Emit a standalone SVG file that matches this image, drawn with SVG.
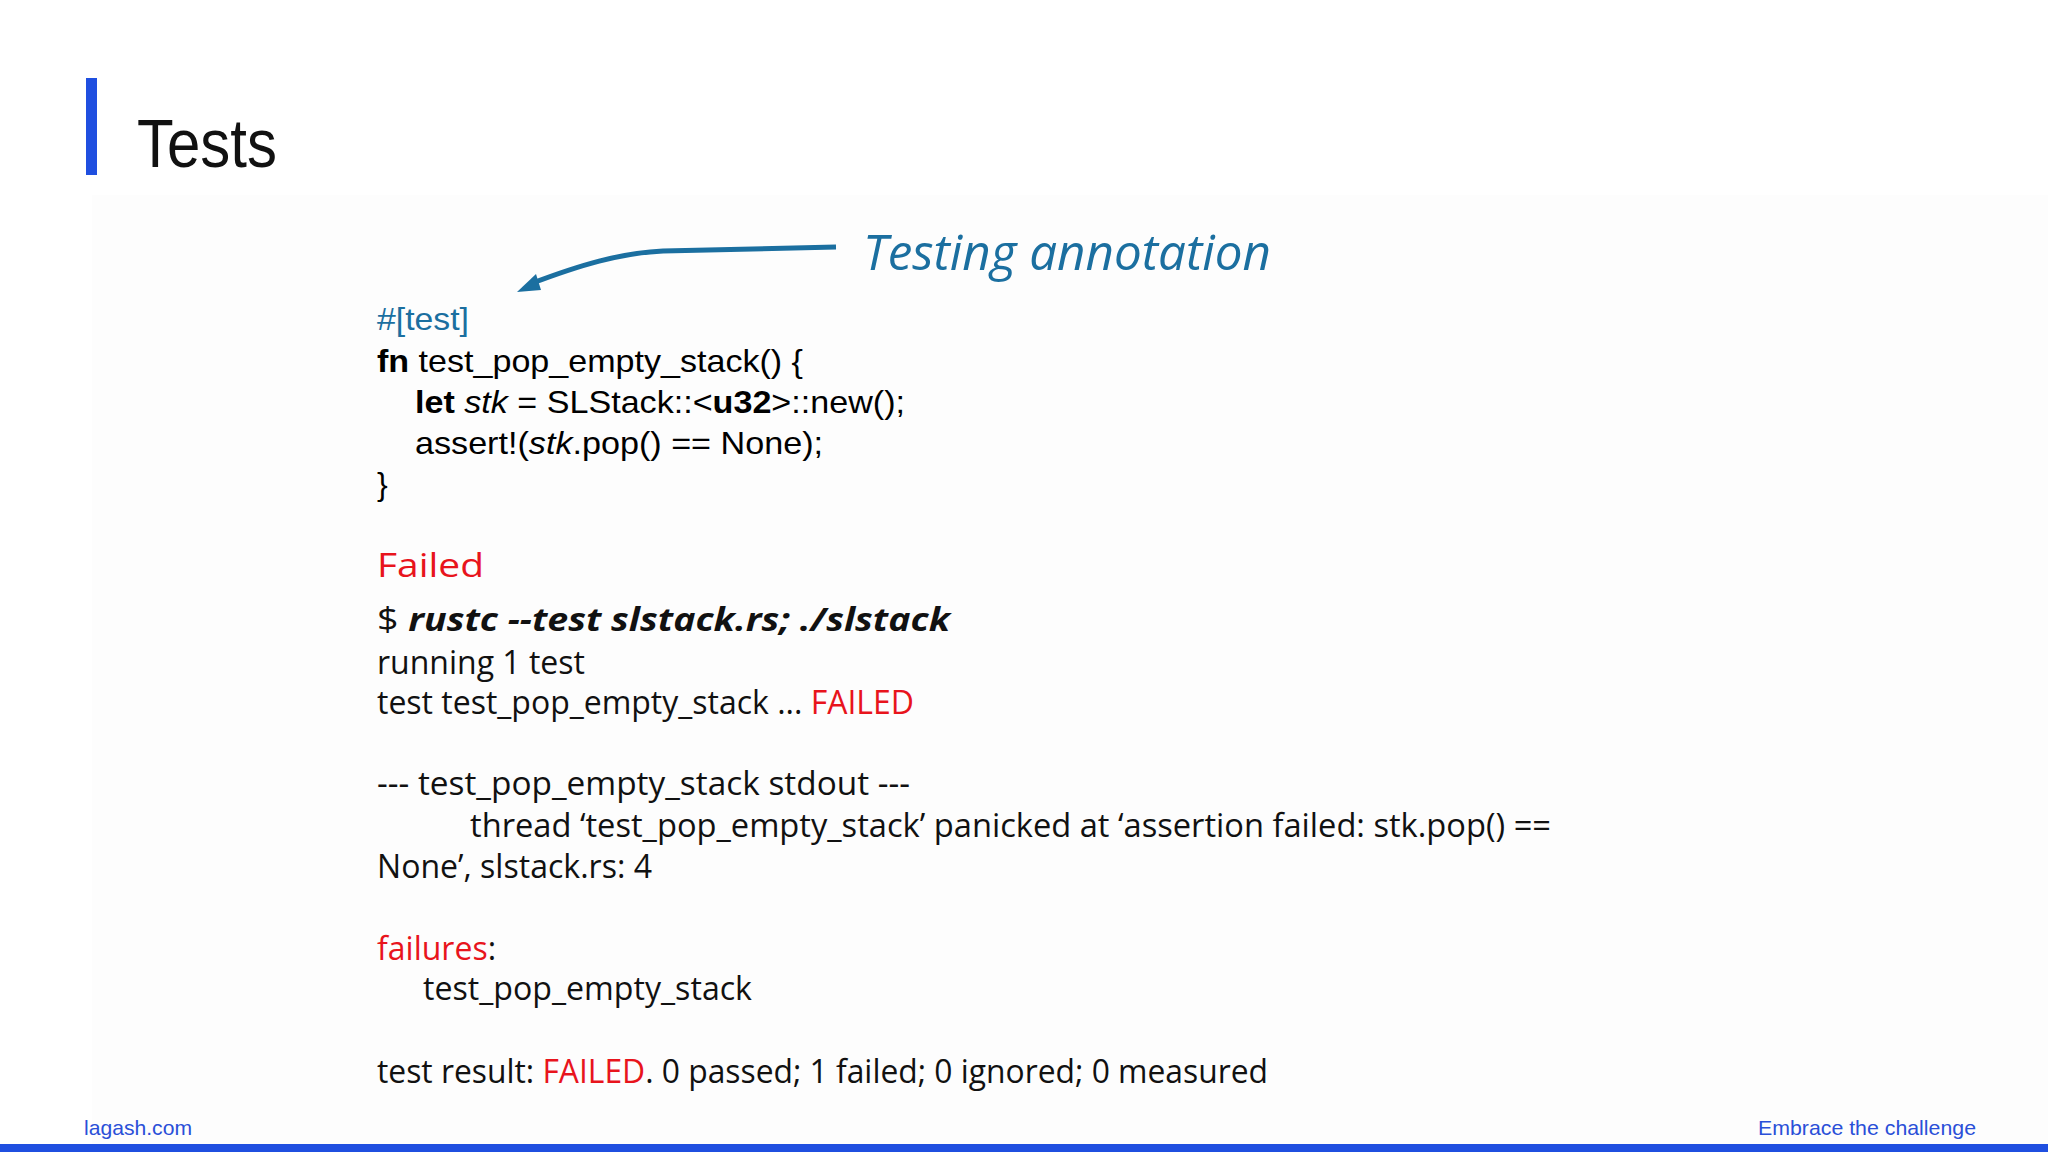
<svg xmlns="http://www.w3.org/2000/svg" width="2048" height="1152" viewBox="0 0 2048 1152">
<style>
.c{font-family:"Liberation Sans",Arial,sans-serif;font-size:32px;fill:#000}
.o{font-family:"Open Sans","Noto Sans",sans-serif;font-size:32px;fill:#111}
.r{fill:#e8141c}
.b{font-weight:bold}
.f{font-family:"Liberation Sans",Arial,sans-serif;font-size:21px;fill:#2a4fd8}
</style>
<rect width="2048" height="1152" fill="#ffffff"/>
<rect x="92" y="195" width="1956" height="949" fill="#fdfdfd"/>
<rect x="86" y="78" width="11" height="97" fill="#1f4fe0"/>
<text x="137" y="167" font-family="Liberation Sans,Arial,sans-serif" font-size="68" fill="#111" textLength="140" lengthAdjust="spacingAndGlyphs">Tests</text>
<g id="annotation">
<path d="M836,247 L663,251 C620,253 580,265 530,284" fill="none" stroke="#1b6fa0" stroke-width="5"/>
<polygon points="517,292 536,274 541,290" fill="#1b6fa0"/>
<text x="863" y="270" font-family="Open Sans,Noto Sans,sans-serif" font-style="italic" font-size="50" fill="#1b6fa0" textLength="408" lengthAdjust="spacingAndGlyphs">Testing annotation</text>
</g>
<g id="code">
<text x="377" y="330" class="c" style="fill:#1b6fa0" textLength="92" lengthAdjust="spacingAndGlyphs">#[test]</text>
<text x="377" y="372" class="c" textLength="426" lengthAdjust="spacingAndGlyphs"><tspan class="b">fn</tspan> test_pop_empty_stack() {</text>
<text x="415" y="413" class="c" textLength="490" lengthAdjust="spacingAndGlyphs"><tspan class="b">let</tspan> <tspan font-style="italic">stk</tspan> = SLStack::&lt;<tspan class="b">u32</tspan>&gt;::new();</text>
<text x="415" y="454" class="c" textLength="408" lengthAdjust="spacingAndGlyphs">assert!(<tspan font-style="italic">stk</tspan>.pop() == None);</text>
<text x="377" y="495" class="c">}</text>
</g>
<g id="output">
<text x="377" y="577" class="o" font-size="49" style="fill:#e8141c" textLength="107" lengthAdjust="spacingAndGlyphs">Failed</text>
<text x="377" y="631" class="o" font-size="39" textLength="573" lengthAdjust="spacingAndGlyphs">$ <tspan font-weight="bold" font-style="italic">rustc --test slstack.rs; ./slstack</tspan></text>
<text x="377" y="674" class="o" textLength="208" lengthAdjust="spacingAndGlyphs">running 1 test</text>
<text x="377" y="714" class="o" textLength="537" lengthAdjust="spacingAndGlyphs">test test_pop_empty_stack ... <tspan style="fill:#e8141c">FAILED</tspan></text>
<text x="377" y="795" class="o" textLength="533" lengthAdjust="spacingAndGlyphs">--- test_pop_empty_stack stdout ---</text>
<text x="470" y="837" class="o" textLength="1081" lengthAdjust="spacingAndGlyphs">thread ‘test_pop_empty_stack’ panicked at ‘assertion failed: stk.pop() ==</text>
<text x="377" y="878" class="o" textLength="275" lengthAdjust="spacingAndGlyphs">None’, slstack.rs: 4</text>
<text x="377" y="960" class="o"><tspan style="fill:#e8141c">failures</tspan>:</text>
<text x="423" y="1000" class="o" textLength="329" lengthAdjust="spacingAndGlyphs">test_pop_empty_stack</text>
<text x="377" y="1083" class="o" textLength="891" lengthAdjust="spacingAndGlyphs">test result: <tspan style="fill:#e8141c">FAILED</tspan>. 0 passed; 1 failed; 0 ignored; 0 measured</text>
</g>
<text x="84" y="1135" class="f" textLength="108" lengthAdjust="spacingAndGlyphs">lagash.com</text>
<text x="1758" y="1135" class="f" textLength="218" lengthAdjust="spacingAndGlyphs">Embrace the challenge</text>
<rect x="0" y="1144" width="2048" height="8" fill="#1f4fe0"/>
</svg>
